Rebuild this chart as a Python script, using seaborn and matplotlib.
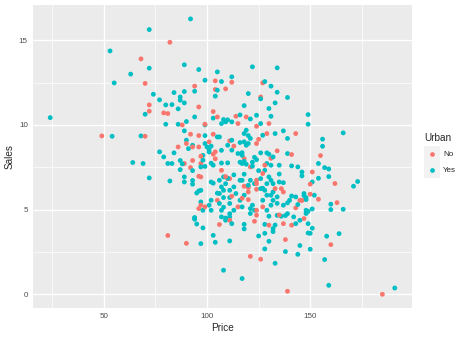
import matplotlib
matplotlib.use("Agg")
import matplotlib.pyplot as plt
import seaborn as sns
import pandas as pd
from matplotlib.patches import Rectangle
from matplotlib.lines import Line2D

price = [72, 53, 68, 72, 63, 70, 55, 74, 77, 72, 72, 70, 24,
         92, 82, 89, 96, 105, 122, 134, 99, 104, 107, 112, 112, 127, 128, 131, 104, 105,
         109, 94, 94, 89, 84, 120, 134, 104, 87, 87, 126, 126, 139, 89, 133, 80, 83, 96,
         118, 86, 103, 130, 79, 81, 94, 103, 105, 108, 114, 119, 116, 121, 124, 131, 149, 110,
         49, 54, 68, 70, 77, 64, 69, 72,
         80, 86, 88, 90, 89, 92, 96, 99, 99, 103, 106, 107, 109, 112, 111, 110, 115, 118,
         120, 119, 124, 126, 127, 129, 130, 133, 139, 137, 143, 149, 90, 90, 91, 86, 84, 79,
         81, 83, 89, 87, 92, 93, 97, 96, 99, 101, 100, 101, 102, 101, 104, 98, 97, 99, 103,
         107, 110, 112, 113, 115, 116, 118, 120, 119, 124, 125, 126, 124, 118, 117, 119, 121,
         122, 129, 129, 128, 131, 132, 131, 135, 134, 139, 141, 144, 146, 141,
         82, 89, 89, 93, 93, 96, 97, 95, 96, 97, 96, 101, 102, 102, 106, 108, 110, 111, 107,
         108, 109, 111, 106, 108, 111, 113, 114, 105, 106, 111, 115, 113, 107, 102, 98, 99,
         116, 118, 120, 120, 118, 121, 123, 120, 116, 117, 121, 123, 124, 124, 124, 126, 126,
         128, 129, 127, 130, 131, 132, 132, 132, 131, 134, 133, 136, 137, 135, 137, 129, 127,
         127, 129, 124, 130, 134, 137, 139, 140, 143, 146, 148, 143, 144, 148, 139, 142, 94, 111,
         166, 156, 156, 155, 154, 157, 159, 151, 146, 154, 159, 162, 151, 150, 171, 173, 152,
         150, 147, 154, 146, 148, 163, 160, 160, 166, 151, 149, 148, 147,
         94, 95, 98, 81, 90, 97, 103, 104, 106, 111, 108, 117, 121, 126, 133, 128, 130, 125,
         128, 118, 118, 123, 138, 138, 144, 145, 150, 139,
         107, 109, 111, 111, 112, 121, 124, 128, 130, 132, 133, 132, 136, 135, 138, 137, 141,
         143, 145, 149,
         151, 149, 158, 164, 160, 150, 157, 159, 191, 185,
         99, 105, 112, 93, 93, 98, 97, 103, 107, 117, 87, 93, 88, 102, 107, 116, 118, 117,
         123, 130, 122, 128, 118, 120, 127, 131, 141, 145, 147, 122, 117, 134, 103, 110, 109,
         117, 97, 105, 112, 97, 108, 109, 94, 113, 125, 104, 121, 135]

sales = [15.63, 14.37, 13.90, 13.35, 13.00, 12.45, 12.48, 11.81, 11.48, 11.18, 10.81, 10.63, 10.43,
         16.26, 14.88, 13.55, 13.27, 13.13, 13.43, 13.37, 12.64, 12.60, 12.56, 12.84, 12.52, 12.48, 12.56, 12.29, 12.09, 12.05,
         12.13, 12.29, 11.99, 11.97, 11.91, 11.85, 11.93, 11.70, 11.65, 11.46, 11.65, 11.54, 11.62, 11.30, 11.30, 11.18, 11.20, 11.06,
         11.14, 10.95, 10.79, 10.97, 10.71, 10.67, 10.47, 10.40, 10.47, 10.32, 10.51, 10.47, 10.59, 10.35, 10.57, 10.51, 10.61, 10.30,
         9.35, 9.33, 9.35, 9.33, 8.41, 7.78, 7.72, 6.87,
         10.04, 10.04, 10.00, 10.20, 9.65, 9.45, 9.37, 10.00, 9.37, 9.45, 9.29, 10.08, 10.18, 10.18, 9.06, 8.80, 10.08, 9.49,
         9.37, 9.69, 9.92, 10.08, 9.39, 9.49, 10.08, 9.49, 9.20, 9.65, 9.49, 10.04, 9.10, 8.90, 8.60, 8.70, 8.35, 8.11,
         7.72, 7.72, 7.72, 7.36, 7.48, 7.30, 7.72, 8.70, 8.90, 9.00, 8.70, 8.55, 8.75, 8.40, 8.41, 7.92, 7.52, 7.55, 7.62,
         7.32, 7.76, 8.51, 8.75, 8.31, 8.96, 9.00, 8.90, 8.80, 8.90, 9.15, 8.35, 7.95, 8.01, 7.72, 7.68, 7.52,
         7.80, 8.35, 7.72, 7.32, 8.03, 8.11, 7.62, 7.62, 8.47, 8.31, 8.25, 7.52, 7.22, 7.58,
         6.69, 6.93, 6.63, 6.72, 6.50, 6.97, 6.93, 5.98, 6.10, 5.45, 5.06, 5.26, 5.55, 6.63, 6.73, 6.93, 6.83, 6.83, 6.34,
         6.14, 6.53, 6.14, 5.95, 5.71, 5.71, 6.34, 5.95, 5.55, 5.36, 5.36, 5.16, 4.96, 4.96, 4.96, 4.96, 5.16,
         6.73, 6.38, 6.30, 6.04, 5.85, 6.73, 6.53, 5.59, 5.55, 5.16, 5.06, 4.96, 6.73, 6.53, 6.20, 6.83, 6.24,
         6.14, 6.53, 7.13, 6.93, 6.73, 6.53, 6.04, 5.55, 5.26, 5.75, 6.24, 6.24, 6.04, 6.63, 6.59, 5.85, 5.55,
         5.16, 4.96, 4.96, 4.61, 4.66, 5.26, 5.40, 5.55, 5.75, 5.55, 5.71, 5.10, 5.30, 4.96, 4.76, 4.57, 4.53, 4.76,
         9.53, 9.16, 8.74, 8.19, 7.72, 7.48, 7.40, 7.22, 6.99, 6.85, 6.95, 6.54, 6.63, 6.50, 6.38, 6.66, 5.85,
         5.91, 5.83, 5.61, 5.55, 5.59, 5.41, 5.32, 5.00, 5.02, 5.04, 4.90, 4.77, 4.47,
         4.43, 4.15, 3.92, 3.47, 3.01, 2.99, 3.48, 3.07, 4.12, 3.15, 1.42, 0.93, 2.24, 2.07, 1.83, 2.68, 3.13, 3.44,
         3.60, 4.13, 3.86, 4.31, 3.23, 2.52, 2.36, 2.88, 3.60, 0.18,
         4.57, 4.37, 4.57, 4.37, 4.17, 4.77, 4.67, 4.13, 4.08, 3.88, 4.09, 3.70, 4.61, 4.68, 4.65, 4.17, 4.08,
         4.17, 4.37, 4.17,
         3.90, 3.62, 3.43, 3.58, 2.93, 2.66, 2.05, 0.53, 0.37, 0.00,
         10.04, 9.29, 9.10, 8.80, 8.70, 8.20, 8.15, 8.27, 8.50, 8.21, 7.90, 7.90, 7.70, 7.74, 7.75, 7.80, 7.85, 8.36,
         8.09, 8.27, 7.56, 7.62, 7.09, 6.44, 6.26, 5.85, 5.80, 5.55, 5.95, 5.26, 5.67, 5.37, 6.56, 6.85, 6.95,
         6.73, 6.14, 5.97, 5.79, 5.26, 5.14, 4.50, 4.50, 7.05, 7.30, 8.00, 9.20, 7.10]

urban = ["Yes", "Yes", "No", "Yes", "Yes", "No", "Yes", "Yes", "Yes", "No", "No", "Yes", "Yes",
         "Yes", "No", "Yes", "Yes", "Yes", "Yes", "Yes", "Yes", "No", "Yes", "Yes", "No", "No", "Yes", "Yes", "No", "Yes",
         "No", "No", "Yes", "Yes", "Yes", "Yes", "Yes", "Yes", "Yes", "Yes", "No", "Yes", "Yes", "Yes", "Yes", "Yes", "Yes", "No",
         "Yes", "Yes", "No", "Yes", "No", "No", "Yes", "Yes", "No", "Yes", "No", "No", "Yes", "Yes", "Yes", "Yes", "Yes", "Yes",
         "No", "Yes", "Yes", "No", "Yes", "Yes", "Yes", "Yes",
         "Yes", "Yes", "No", "Yes", "Yes", "No", "No", "Yes", "Yes", "No", "Yes", "Yes", "Yes", "Yes", "No", "Yes", "No", "Yes",
         "Yes", "Yes", "No", "Yes", "Yes", "No", "No", "Yes", "Yes", "Yes", "No", "Yes", "Yes", "No", "Yes", "No", "Yes", "Yes",
         "Yes", "Yes", "No", "Yes", "No", "Yes", "No", "No", "Yes", "No", "Yes", "Yes", "Yes", "Yes", "No", "Yes", "Yes", "Yes", "Yes",
         "No", "Yes", "Yes", "No", "Yes", "Yes", "Yes", "Yes", "Yes", "No", "No", "Yes", "Yes", "No", "Yes", "Yes", "No",
         "Yes", "Yes", "Yes", "Yes", "No", "Yes", "Yes", "Yes", "No", "Yes", "No", "Yes", "Yes", "Yes",
         "Yes", "Yes", "Yes", "Yes", "Yes", "No", "No", "Yes", "Yes", "Yes", "No", "Yes", "Yes", "Yes", "Yes", "Yes", "No", "No", "Yes",
         "Yes", "Yes", "Yes", "Yes", "Yes", "Yes", "Yes", "Yes", "No", "Yes", "Yes", "No", "Yes", "Yes", "Yes", "Yes", "No",
         "Yes", "No", "No", "No", "Yes", "Yes", "Yes", "No", "Yes", "Yes", "Yes", "Yes", "No", "No", "No", "Yes", "Yes",
         "Yes", "Yes", "No", "Yes", "Yes", "Yes", "Yes", "Yes", "Yes", "Yes", "No", "No", "No", "Yes", "Yes", "Yes", "Yes",
         "No", "Yes", "No", "Yes", "Yes", "Yes", "Yes", "Yes", "Yes", "No", "Yes", "No", "Yes", "Yes", "Yes", "Yes", "Yes", "Yes",
         "Yes", "Yes", "Yes", "No", "Yes", "Yes", "Yes", "No", "Yes", "Yes", "Yes", "No", "Yes", "No", "Yes", "Yes", "Yes",
         "No", "Yes", "No", "No", "Yes", "No", "Yes", "Yes", "Yes", "Yes", "Yes", "Yes", "No",
         "Yes", "Yes", "Yes", "No", "No", "Yes", "Yes", "Yes", "No", "Yes", "Yes", "Yes", "No", "No", "Yes", "Yes", "Yes", "Yes",
         "Yes", "Yes", "Yes", "No", "No", "Yes", "Yes", "Yes", "Yes", "No",
         "Yes", "Yes", "Yes", "No", "Yes", "Yes", "No", "Yes", "No", "Yes", "Yes", "Yes", "Yes", "No", "Yes", "No", "No",
         "Yes", "Yes", "Yes",
         "Yes", "Yes", "Yes", "Yes", "No", "Yes", "Yes", "Yes", "Yes", "No",
         "No", "Yes", "Yes", "Yes", "No", "Yes", "No", "No", "Yes", "Yes", "Yes", "No", "Yes", "Yes", "Yes", "Yes", "Yes", "Yes",
         "Yes", "Yes", "Yes", "No", "Yes", "Yes", "Yes", "Yes", "Yes", "No", "Yes", "Yes", "No", "Yes", "Yes", "Yes", "No",
         "Yes", "Yes", "Yes", "No", "No", "Yes", "Yes", "Yes", "Yes", "Yes", "No", "Yes", "Yes"]

df = pd.DataFrame({"Price": price, "Sales": sales, "Urban": urban})

sns.set_style("white")
plt.rcParams["font.family"] = ["Liberation Sans", "DejaVu Sans"]

W, H = 474, 338
fig = plt.figure(figsize=(W / 100, H / 100), dpi=100)
ax = fig.add_axes([33 / W, (H - 308) / H, 379 / W, 303 / H])
ax.set_facecolor("#EBEBEB")

palette = {"No": "#F8766D", "Yes": "#00BFC4"}
sns.scatterplot(data=df, x="Price", y="Sales", hue="Urban", palette=palette,
                s=12, linewidth=0, ax=ax, legend=False, zorder=3)

ax.set_xlim(15.65, 199.35)
ax.set_ylim(-0.81, 17.08)
ax.set_xticks([50, 100, 150])
ax.set_xticks([25, 75, 125, 175], minor=True)
ax.set_yticks([0, 5, 10, 15])
ax.set_yticks([2.5, 7.5, 12.5], minor=True)
ax.grid(which="major", color="white", linewidth=1.0)
ax.grid(which="minor", color="white", linewidth=0.5)
ax.set_axisbelow(True)
for sp in ax.spines.values():
    sp.set_visible(False)
ax.tick_params(which="major", length=2.2, width=0.6, color="#333333",
               labelsize=5.8, labelcolor="#4D4D4D", pad=1.5)
ax.tick_params(which="minor", length=0)
ax.set_xlabel("Price", fontsize=7.2, labelpad=2)
ax.set_ylabel("Sales", fontsize=7.2, labelpad=3)

# legend
fig.text(424 / W, 1 - 138 / H, "Urban", fontsize=7.2, va="center", ha="left")
for i, (lab, col) in enumerate([("No", "#F8766D"), ("Yes", "#00BFC4")]):
    yc = 154 + 16 * i
    fig.patches.append(Rectangle((424 / W, 1 - (yc + 8) / H), 16 / W, 16 / H,
                                 transform=fig.transFigure, facecolor="#F2F2F2",
                                 edgecolor="none"))
    fig.lines.append(Line2D([432 / W], [1 - yc / H], marker="o", markersize=3.4,
                            markerfacecolor=col, markeredgewidth=0,
                            transform=fig.transFigure))
    fig.text(443 / W, 1 - yc / H, lab, fontsize=5.8, va="center", ha="left")

fig.savefig("out.png", dpi=100)
